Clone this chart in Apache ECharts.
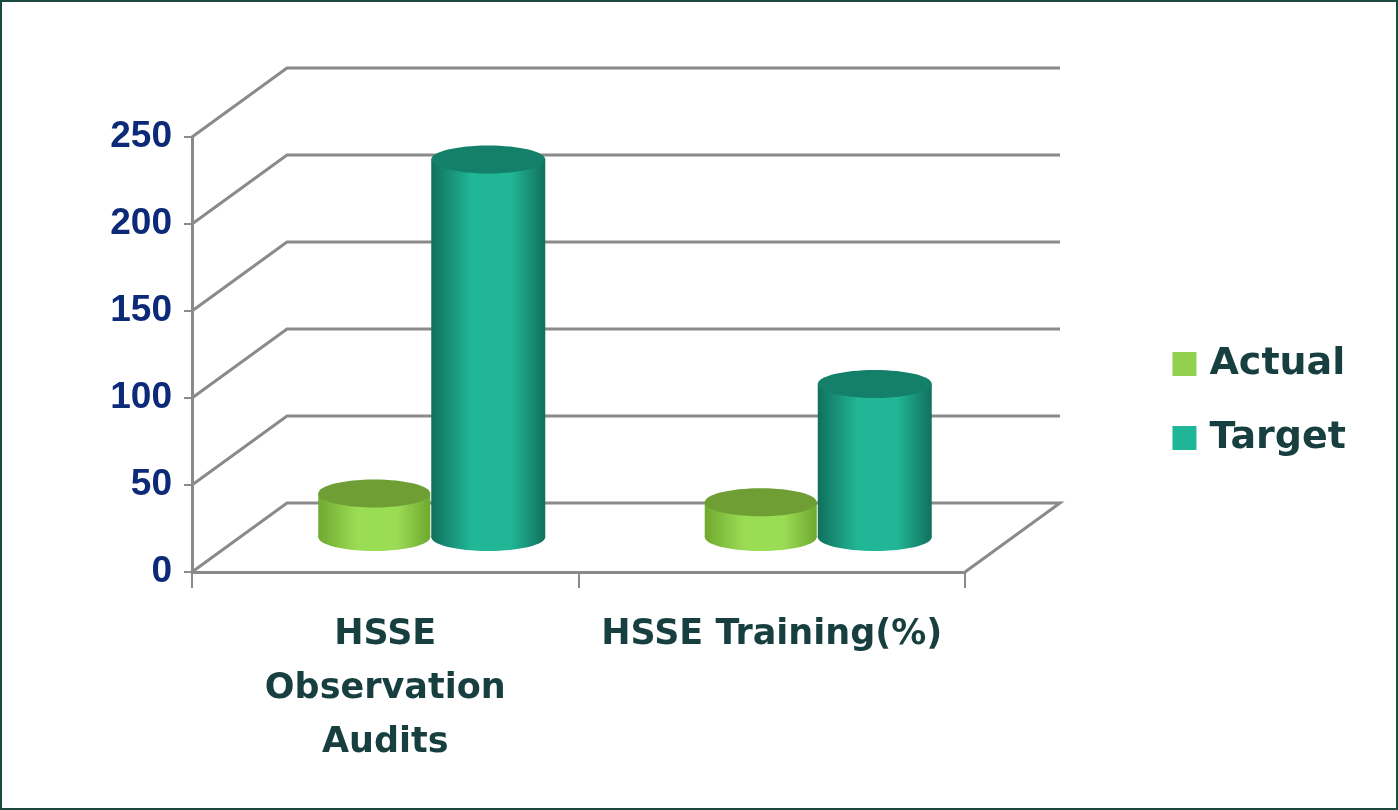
<!DOCTYPE html>
<html lang="en">
<head>
<meta charset="UTF-8">
<title>HSSE</title>
<script src="https://cdn.jsdelivr.net/npm/echarts@6/dist/echarts.min.js"></script>
<style>
html,body{margin:0;padding:0;background:#fff;}
#main{width:1394px;height:806px;border:2px solid #1c4a40;}
</style>
</head>
<body>
<div id="main"></div>
<script>
var categories = ['HSSE\nObservation\nAudits', 'HSSE Training(%)'];
var actualValues = [25, 20];
var targetValues = [217, 88];
var gridTicks = [0, 50, 100, 150, 200, 250];

var DX = 95, DY = -69;      // depth of the back wall
var MX = 47, MY = -35;      // depth where the cylinders stand

var chart = echarts.init(document.getElementById('main'));

function cylinder(offset, rx, side, mid, top) {
    return function (params, api) {
        var base = api.coord([api.value(0), 0]);
        var head = api.coord([api.value(0), api.value(1)]);
        var cx = base[0] + offset + MX;
        var yb = base[1] + MY, yt = head[1] + MY, ry = 14;
        var grad = new echarts.graphic.LinearGradient(0, 0, 1, 0, [
            {offset: 0, color: side}, {offset: 0.35, color: mid},
            {offset: 0.7, color: mid}, {offset: 1, color: side}]);
        return {
            type: 'group',
            children: [
                {type: 'ellipse', shape: {cx: cx, cy: yb, rx: rx, ry: ry}, style: {fill: grad}},
                {type: 'rect', shape: {x: cx - rx, y: yt, width: rx * 2, height: yb - yt}, style: {fill: grad}},
                {type: 'ellipse', shape: {cx: cx, cy: yt, rx: rx, ry: ry}, style: {fill: top}}
            ]
        };
    };
}

var option = {
    animation: false,
    grid: {left: 190, right: 431, top: 135, bottom: 236},
    legend: {
        orient: 'vertical', right: 45, top: 338, itemGap: 36,
        itemWidth: 24, itemHeight: 24, icon: 'rect',
        textStyle: {fontSize: 38, fontWeight: 'bold', color: '#173f3f', fontFamily: 'DejaVu Sans', padding: [0, 0, 0, 8]},
        data: ['Actual', 'Target']
    },
    xAxis: {
        type: 'category', data: categories,
        axisLine: {lineStyle: {color: '#8a8a8a', width: 3}},
        axisTick: {show: true, interval: 0, length: 16, lineStyle: {color: '#8a8a8a', width: 2}},
        axisLabel: {interval: 0, fontSize: 35, fontWeight: 'bold', color: '#173f3f', lineHeight: 54, margin: 36, fontFamily: 'DejaVu Sans'}
    },
    yAxis: {
        type: 'value', min: 0, max: 250, interval: 50,
        axisLine: {show: true, lineStyle: {color: '#8a8a8a', width: 3}},
        axisTick: {show: true, length: 8, lineStyle: {color: '#8a8a8a', width: 2}},
        splitLine: {show: false},
        axisLabel: {fontSize: 37, fontWeight: 'bold', color: '#0d2a78', margin: 20, fontFamily: 'Liberation Sans'}
    },
    series: [
        {
            name: 'walls', type: 'custom', silent: true, z: 1,
            data: gridTicks.map(function (v) { return [0, v]; }),
            renderItem: function (params, api) {
                var p = api.coord([0, api.value(1)]);
                var band = api.size([1, 0])[0];
                var left = p[0] - band / 2, right = left + band * 2, y = p[1];
                var pts = [[left, y], [left + DX, y + DY], [right + DX, y + DY]];
                if (api.value(1) === 0) pts.push([right, y]);
                return {type: 'polyline', shape: {points: pts}, style: {stroke: '#8a8a8a', lineWidth: 3, fill: null}};
            }
        },
        {
            name: 'Actual', type: 'custom', z: 3, itemStyle: {color: '#92d050'},
            data: actualValues.map(function (v, i) { return [i, v]; }),
            renderItem: cylinder(-58, 56, '#6fa92f', '#9bdc55', '#6e9e34')
        },
        {
            name: 'Target', type: 'custom', z: 3, itemStyle: {color: '#1fb597'},
            data: targetValues.map(function (v, i) { return [i, v]; }),
            renderItem: cylinder(56, 57, '#11705d', '#21b696', '#14806a')
        }
    ]
};
chart.setOption(option);
</script>
</body>
</html>
